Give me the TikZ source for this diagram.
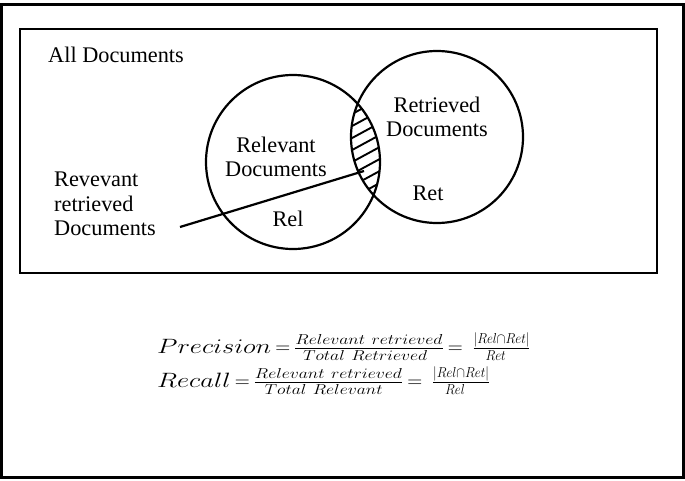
\documentclass[tikz,border=0pt]{standalone}
\usepackage{fontspec}
\usepackage{graphicx}
\setmainfont{Liberation Serif}
\newcommand{\hs}[2]{\scalebox{#1}[1]{#2}}
\begin{document}
\begin{tikzpicture}[x=1pt,y=-1pt,
  lbl/.style={inner sep=0pt,font=\fontsize{22.3}{24.5}\selectfont,align=center},
  venn/.style={line width=2.2pt},
  frm/.style={line width=2pt},
  hatch/.style={line width=1.9pt},
  eq/.style={inner sep=0pt,anchor=base west,font=\fontsize{21}{25}\selectfont}]
\useasboundingbox (0,0) rectangle (685,480);
\draw[line width=3pt] (1.5,4) rectangle (683.5,477);
\draw[frm] (19.5,29) rectangle (657,273);
\coordinate (c1) at (293,162);
\coordinate (c2) at (437,137);
\begin{scope}
  \clip (c1) circle (87);
  \clip (c2) circle (86);
  \foreach \k in {-10,...,12} {
    \draw[hatch] (330,90+12*\k) -- (400,52+12*\k);
  }
\end{scope}
\draw[venn] (c1) circle (87);
\draw[venn] (c2) circle (86);
\node[lbl,anchor=base west] (all) at (48,62) {All Documents};
\node[lbl] (relt) at (276,157) {Relevant\\Documents};
\node[lbl] (rett) at (437,117) {Retrieved\\Documents};
\node[lbl] (ret) at (428,193) {Ret};
\node[lbl] (rel) at (288,219) {Rel};
\node[lbl,align=left,anchor=north west] (rr) at (54,172) {Revevant\\retrieved\\Documents};
\coordinate (ls) at (180,227);
\coordinate (lt) at (364,171);
\draw[line width=2.2pt] (ls) -- (lt);
\node[eq] (prec) at (157,353) {\thickmuskip=3.5mu $\hs{1.28}{$Precision$} = \frac{\hs{1.23}{$\scriptstyle Relevant\ retrieved$}}{\hs{1.23}{$\scriptstyle Total\ Retrieved$}} = \mkern5mu \frac{\hs{0.9}{$\scriptstyle |Rel\cap Ret|$}}{\hs{0.9}{$\scriptstyle Ret$}}$};
\node[eq] (rec) at (157,387) {\thickmuskip=3.5mu $\hs{1.28}{$Recall$} = \frac{\hs{1.23}{$\scriptstyle Relevant\ retrieved$}}{\hs{1.23}{$\scriptstyle Total\ Relevant$}} = \mkern5mu \frac{\hs{0.9}{$\scriptstyle |Rel\cap Ret|$}}{\hs{0.9}{$\scriptstyle Rel$}}$};
\end{tikzpicture}
\end{document}
